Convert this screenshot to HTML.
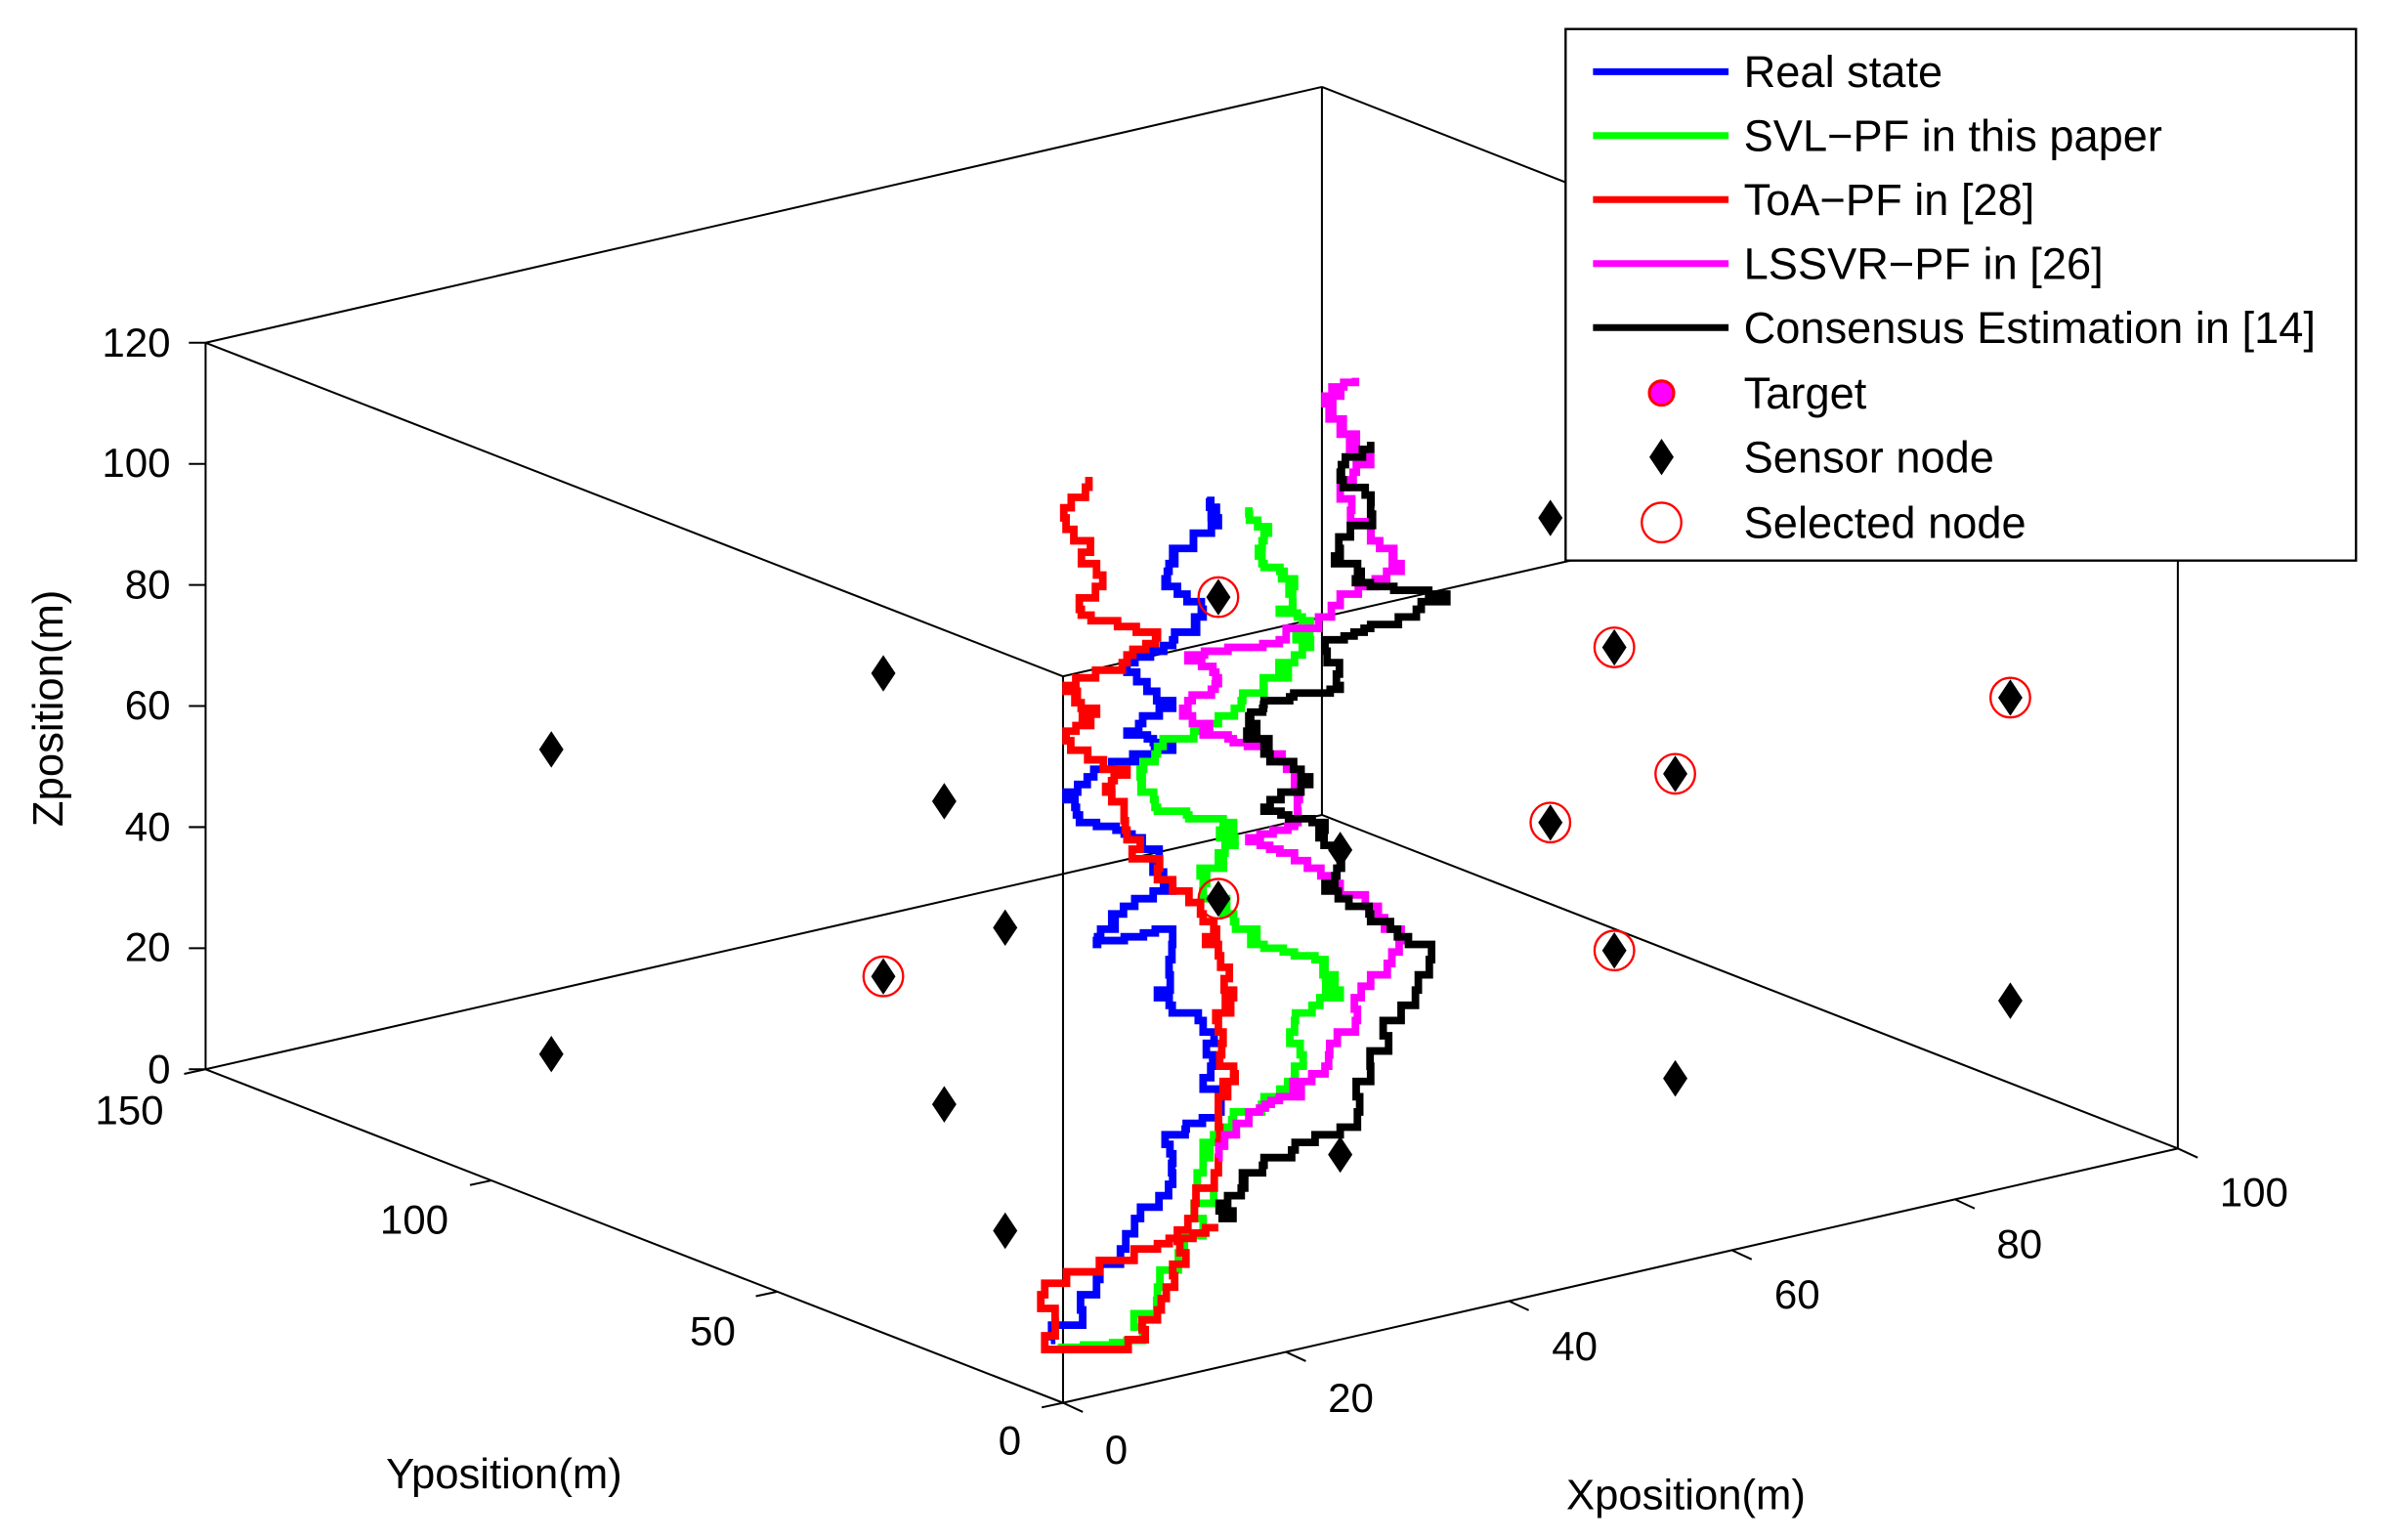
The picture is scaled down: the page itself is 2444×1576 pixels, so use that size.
<!DOCTYPE html>
<html><head><meta charset="utf-8"><style>
html,body{margin:0;padding:0;background:#fff;}
svg{display:block;}
text{font-family:"Liberation Sans",Arial,sans-serif;fill:#000;}
</style></head><body>
<svg id="s" width="2444" height="1576" viewBox="0 0 1568 1011" xmlns="http://www.w3.org/2000/svg">
<rect width="1568" height="1011" fill="#fff"/>
<g stroke="#000" stroke-width="1.3" fill="none">
<line x1="135" y1="225" x2="135" y2="702"/>
<line x1="698" y1="444" x2="698" y2="921"/>
<line x1="868" y1="57" x2="868" y2="535"/>
<line x1="1430" y1="277" x2="1430" y2="754"/>
<line x1="135" y1="225" x2="868" y2="57"/>
<line x1="135" y1="225" x2="698" y2="444"/>
<line x1="698" y1="444" x2="1430" y2="277"/>
<line x1="868" y1="57" x2="1430" y2="277"/>
<line x1="135" y1="702" x2="698" y2="921"/>
<line x1="698" y1="921" x2="1430" y2="754"/>
<line x1="135" y1="702" x2="868" y2="535"/>
<line x1="868" y1="535" x2="1430" y2="754"/>
</g>
<g id="ticks" stroke="#000" stroke-width="1.3"></g>
<g font-size="27">
<text x="112" y="711" text-anchor="end">0</text>
<text x="112" y="631" text-anchor="end">20</text>
<text x="112" y="552" text-anchor="end">40</text>
<text x="112" y="472" text-anchor="end">60</text>
<text x="112" y="393" text-anchor="end">80</text>
<text x="112" y="313" text-anchor="end">100</text>
<text x="112" y="234" text-anchor="end">120</text>
<text x="85" y="738" text-anchor="middle">150</text>
<text x="272" y="810" text-anchor="middle">100</text>
<text x="468" y="883" text-anchor="middle">50</text>
<text x="663" y="955" text-anchor="middle">0</text>
<text x="733" y="961" text-anchor="middle">0</text>
<text x="887" y="927" text-anchor="middle">20</text>
<text x="1034" y="893" text-anchor="middle">40</text>
<text x="1180" y="859" text-anchor="middle">60</text>
<text x="1326" y="826" text-anchor="middle">80</text>
<text x="1480" y="792" text-anchor="middle">100</text>
<text x="331" y="977" text-anchor="middle" font-size="28">Yposition(m)</text>
<text x="1107" y="991" text-anchor="middle" font-size="28">Xposition(m)</text>
<text transform="translate(41,465) rotate(-90)" text-anchor="middle" font-size="28">Zposition(m)</text>
</g>
<g id="series" fill="none" stroke-width="5" stroke-linejoin="miter"></g>
<g id="nodes"></g>
<rect x="1028" y="19" width="519" height="349" fill="#fff" stroke="#000" stroke-width="1.5"/>
<g stroke-width="4.5">
<line x1="1046" y1="47" x2="1135" y2="47" stroke="#0000ff"/>
<line x1="1046" y1="89" x2="1135" y2="89" stroke="#00ff00"/>
<line x1="1046" y1="131" x2="1135" y2="131" stroke="#ff0000"/>
<line x1="1046" y1="173" x2="1135" y2="173" stroke="#ff00ff"/>
<line x1="1046" y1="215" x2="1135" y2="215" stroke="#000"/>
</g>
<circle cx="1091" cy="258" r="8" fill="#ff00ff" stroke="#ff0000" stroke-width="2"/>
<polygon points="1091,288 1099,300 1091,312 1083,300" fill="#000"/>
<circle cx="1091" cy="343" r="13" fill="none" stroke="#ff0000" stroke-width="1.5"/>
<g font-size="29">
<text x="1145" y="57">Real state</text>
<text x="1145" y="99">SVL−PF in this paper</text>
<text x="1145" y="141">ToA−PF in [28]</text>
<text x="1145" y="183">LSSVR−PF in [26]</text>
<text x="1145" y="225">Consensus Estimation in [14]</text>
<text x="1145" y="268">Target</text>
<text x="1145" y="310">Sensor node</text>
<text x="1145" y="353">Selected node</text>
</g>
</svg>
<script>
var NS="http://www.w3.org/2000/svg";
function el(p,n,a){var e=document.createElementNS(NS,n);for(var k in a)e.setAttribute(k,a[k]);p.appendChild(e);return e;}
var T=document.getElementById('ticks');
for(var i=0;i<=6;i++){var y=702-i*79.5;el(T,'line',{x1:135,y1:y,x2:124,y2:y});}
for(var i=0;i<=3;i++){var x=698-i*187.7,y=921-i*73;el(T,'line',{x1:x,y1:y,x2:x-14,y2:y+3});}
for(var i=0;i<=5;i++){var x=698+i*146.4,y=921-i*33.4;el(T,'line',{x1:x,y1:y,x2:x+13,y2:y+6});}
var seed=7;function rnd(){seed=(seed*16807)%2147483647;return seed/2147483647;}
function stair(pts){var d="M"+pts[0][0]+","+pts[0][1];var cx=pts[0][0],cy=pts[0][1];
for(var i=1;i<pts.length;i++){var a=pts[i-1],b=pts[i];var n=4;
for(var j=1;j<=n;j++){var tx=a[0]+(b[0]-a[0])*j/n+(j<n?(rnd()-0.5)*14:0);var ty=a[1]+(b[1]-a[1])*j/n;
d+=" L"+tx.toFixed(1)+","+cy.toFixed(1)+" L"+tx.toFixed(1)+","+ty.toFixed(1);cx=tx;cy=ty;}}
return d;}
var S=document.getElementById('series');
var data=[
["#0000ff",[[690,880],[720,840],[745,800],[770,770],[765,745],[800,730],[795,700],[790,670],[760,650],[770,610],[720,620],[730,600],[770,580],[750,550],[720,540],[700,520],[730,500],[770,490],[740,480],[770,460],[740,435],[770,420],[790,400],[765,380],[770,360],[800,340],[795,326]]],
["#00ff00",[[686,886],[740,880],[760,845],[790,800],[790,760],[800,740],[830,720],[850,700],[850,670],[880,650],[870,630],[830,620],[810,600],[790,580],[800,560],[810,540],[760,530],[750,510],[760,490],[800,470],[830,450],[850,430],[860,410],[840,400],[850,380],[830,370],[830,350],[820,333]]],
["#ff0000",[[800,806],[760,820],[686,850],[686,886],[740,886],[760,860],[770,830],[780,800],[800,760],[800,720],[810,700],[800,670],[810,650],[800,620],[790,600],[760,570],[740,545],[730,520],[740,505],[700,480],[720,465],[700,450],[740,430],[760,415],[710,400],[720,370],[700,340],[715,313]]],
["#ff00ff",[[800,760],[820,730],[840,720],[870,700],[890,670],[900,640],[920,610],[880,580],[850,560],[820,550],[850,540],[850,510],[830,490],[790,480],[780,460],[800,445],[780,430],[840,420],[880,390],[920,370],[900,350],[880,320],[900,300],[880,280],[870,260],[890,248]]],
["#000000",[[800,800],[815,780],[830,760],[880,740],[900,700],[920,660],[940,620],[900,600],[870,580],[880,560],[870,540],[830,530],[860,510],[830,490],[820,470],[830,460],[880,450],[870,420],[900,410],[950,390],[890,380],[880,360],[900,330],[880,310],[900,290]]]];
data.forEach(function(s){el(S,'path',{d:stair(s[1]),stroke:s[0]});});
var N=document.getElementById('nodes');
var nodes=[[362,492,0],[580,442,0],[620,526,0],[660,609,0],[580,641,1],[362,692,0],[620,725,0],[660,808,0],[880,758,0],[880,558,0],[800,392,1],[800,590,1],[1018,340,0],[1060,425,1],[1100,508,1],[1018,540,1],[1060,624,1],[1320,458,1],[1320,657,0],[1100,708,0]];
nodes.forEach(function(n){if(n[2])el(N,'circle',{cx:n[0],cy:n[1],r:13,fill:'none',stroke:'#ff0000','stroke-width':1.5});
el(N,'polygon',{points:(n[0])+","+(n[1]-12)+" "+(n[0]+8)+","+n[1]+" "+n[0]+","+(n[1]+12)+" "+(n[0]-8)+","+n[1],fill:'#000'});});
</script>
</body></html>
